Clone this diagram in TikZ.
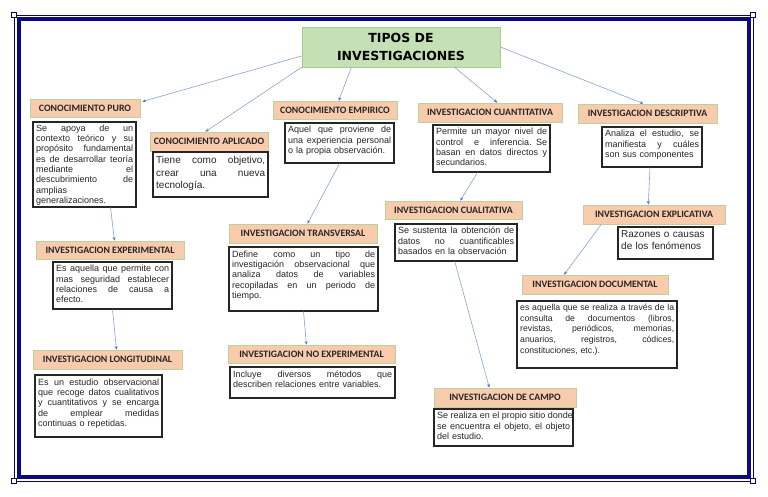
\documentclass[tikz,border=0pt]{standalone}
\usepackage{fontspec}
\setmainfont{Liberation Sans}
\newfontfamily\lblfont{Carlito}
\newfontfamily\ttlfont{DejaVu Sans}
\usetikzlibrary{arrows.meta,calc}
\setlength\parindent{0pt}
\definecolor{peach}{HTML}{F8CBAD}
\definecolor{peachborder}{HTML}{B9D3A0}
\definecolor{ttlgreen}{HTML}{C5E0B4}
\definecolor{ttlborder}{HTML}{A9CD8E}
\definecolor{navy}{HTML}{0A0A7A}
\definecolor{linkblue}{HTML}{86A3D6}
\definecolor{tipblue}{HTML}{4472C4}
\newlength\jlw
\newcommand\jl[1]{\leavevmode\hbox to \jlw{\spaceskip=0.28em plus 1fil\relax #1}\\}
\newcommand\dfont{\fontsize{9}{10.3}\selectfont}
\newcommand\smdfont{\fontsize{8.7}{10.6}\selectfont}
\newcommand\bigdfont{\fontsize{10}{12.3}\selectfont}
\newcommand\mklabel[6]{%
  \pgfmathsetmacro\mkw{#4-#2}\pgfmathsetmacro\mkh{#5-#3}%
  \node[lbl, minimum width=\mkw pt, minimum height=\mkh pt] (#1) at ({(#2+#4)/2},{(#3+#5)/2}) {#6};}
\newcommand\mkdesc[8][\dfont]{%
  \pgfmathsetmacro\mkw{#5-#3}\pgfmathsetmacro\mkh{#6-#4}\pgfmathsetmacro\mktw{#5-#3-6}%
  \global\jlw=\mktw pt\relax
  \node[descb, minimum width=\mkw pt, minimum height=\mkh pt] (#2) at ({(#3+#5)/2},{(#4+#6)/2}) {};
  \node[desct, text width=\mktw pt, font=#1] (#2t) at ({#3+3},{#4+#7}) {#8};}
\newcommand\vconn[4]{\draw[conn] ($(#1.south west)!#2!(#1.south east)$) -- ($(#3.north west)!#4!(#3.north east)$);}
\begin{document}
\begin{tikzpicture}[x=1pt,y=-1pt,
  lbl/.style={draw=peachborder, line width=0.8pt, fill=peach, inner sep=0pt,
    font=\lblfont\bfseries\fontsize{9.8}{11}\selectfont, text=black!85},
  descb/.style={draw=black!85, line width=1.1pt, fill=white, inner sep=0pt},
  desct/.style={anchor=north west, inner sep=0pt, align=left, text=black!85},
  ttl/.style={draw=ttlborder, line width=0.6pt, fill=ttlgreen, inner sep=0pt, align=center,
    font=\ttlfont\bfseries\fontsize{12.5}{18}\selectfont},
  conn/.style={draw=linkblue, line width=0.6pt, -{Stealth[length=3.5pt,width=3pt,color=tipblue]}},
  frameband/.style={draw=navy, line width=4pt},
  frameline/.style={draw=navy!70!black, line width=0.8pt}]
\useasboundingbox[fill=white] (0,0) rectangle (768,497);
% frame
\draw[frameline] (14,15) rectangle (753,481);
\draw[frameband] (18.5,19) rectangle (749,477);
\foreach \cx/\cy in {14/15,753/15,14/481,753/481}
  \draw[frameline, fill=white] (\cx-2.5,\cy-2.5) rectangle (\cx+2.5,\cy+2.5);
% title
\node[ttl, minimum width=198pt, minimum height=40pt] (title) at (401,47) {TIPOS DE\\INVESTIGACIONES};
% labels
\mklabel{puro}{30}{99}{140}{117}{CONOCIMIENTO PURO}
\mklabel{apl}{150}{132}{268}{151}{CONOCIMIENTO APLICADO}
\mklabel{empi}{273}{101}{397}{119}{CONOCIMIENTO EMPIRICO}
\mklabel{cuanti}{418}{103}{562}{122}{INVESTIGACION CUANTITATIVA}
\mklabel{descr}{578}{104}{717}{123}{INVESTIGACION DESCRIPTIVA}
\mklabel{exper}{36}{241}{184}{259}{INVESTIGACION EXPERIMENTAL}
\mklabel{longi}{33}{350}{182}{369}{INVESTIGACION LONGITUDINAL}
\mklabel{transv}{229}{224}{377}{243}{INVESTIGACION TRANSVERSAL}
\mklabel{noexp}{228}{345}{395}{363}{INVESTIGACION NO EXPERIMENTAL}
\mklabel{cuali}{385}{201}{522}{219}{INVESTIGACION CUALITATIVA}
\mklabel{expl}{583}{205}{725}{224}{INVESTIGACION EXPLICATIVA}
\mklabel{docu}{522}{275}{668}{294}{INVESTIGACION DOCUMENTAL}
\mklabel{campo}{434}{388}{576}{407}{INVESTIGACION DE CAMPO}
% descriptions
\mkdesc{puroD}{33}{122}{136}{207}{2.5}{\jl{Se apoya de un}\jl{contexto teórico y su}\jl{propósito fundamental}\jl{es de desarrollar teoría}\jl{mediante el}\jl{descubrimiento de}amplias\\generalizaciones.}
\mkdesc[\bigdfont]{aplD}{153}{152}{268}{197}{4.5}{\jl{Tiene como objetivo,}\jl{crear una nueva}tecnología.}
\mkdesc{empiD}{285}{123}{394}{163}{3}{\jl{Aquel que proviene de}\jl{una experiencia personal}o la propia observación.}
\mkdesc{cuantiD}{433}{125}{550}{172}{3}{\jl{Permite un mayor nivel de}\jl{control e inferencia. Se}\jl{basan en datos directos y}secundarios.}
\mkdesc{descrD}{602}{127}{702}{167}{3}{\jl{Analiza el estudio, se}\jl{manifiesta y cuáles}son sus componentes}
\mkdesc{experD}{53}{262}{172}{309}{3}{\jl{Es aquella que permite con}\jl{mas seguridad establecer}\jl{relaciones de causa a}efecto.}
\mkdesc{longiD}{35}{375}{162}{437}{3.5}{\jl{Es un estudio observacional}\jl{que recoge datos cualitativos}\jl{y cuantitativos y se encarga}\jl{de emplear medidas}continuas o repetidas.}
\mkdesc{transvD}{229}{247}{378}{311}{3.5}{\jl{Define como un tipo de}\jl{investigación observacional que}\jl{analiza datos de variables}\jl{recopiladas en un periodo de}tiempo.}
\mkdesc{noexpD}{230}{367}{395}{398}{3.5}{\jl{Incluye diversos métodos que}describen relaciones entre variables.}
\mkdesc{cualiD}{395}{224}{517}{261}{3}{\jl{Se sustenta la obtención de}\jl{datos no cuantificables}basados en la observación}
\mkdesc[\bigdfont]{explD}{618}{227}{713}{259}{3}{Razones o causas\\de los fenómenos}
\mkdesc[\smdfont]{docuD}{517}{301}{677}{368}{3}{\jl{es aquella que se realiza a través de la}\jl{consulta de documentos (libros,}\jl{revistas, periódicos, memorias,}\jl{anuarios, registros, códices,}constituciones, etc.).}
\mkdesc{campoD}{434}{409}{573}{446}{3}{\jl{Se realiza en el propio sitio donde}\jl{se encuentra el objeto, el objeto}del estudio.}
% connectors
\draw[conn] ($(title.north west)!0.72!(title.south west)$) -- ($(puro.north east)+(2,3)$);
\draw[conn] (title.south west) -- ($(apl.north west)!0.47!(apl.north east)$);
\vconn{title}{0.25}{empi}{0.53}
\vconn{title}{0.77}{cuanti}{0.55}
\draw[conn] (title.east) -- ($(descr.north west)!0.47!(descr.north east)$);
\vconn{puroD}{0.75}{exper}{0.53}
\vconn{experD}{0.5}{longi}{0.56}
\vconn{empiD}{0.5}{transv}{0.53}
\vconn{transvD}{0.5}{noexp}{0.47}
\vconn{cuantiD}{0.38}{cuali}{0.55}
\vconn{cualiD}{0.49}{campo}{0.39}
\vconn{descrD}{0.48}{expl}{0.46}
\vconn{expl}{0.13}{docu}{0.29}
\end{tikzpicture}
\end{document}
